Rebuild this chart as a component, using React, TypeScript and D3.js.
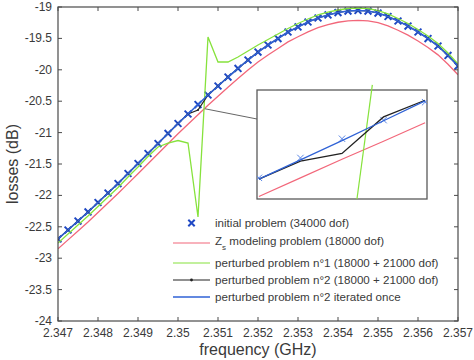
import React from 'react';
import * as d3 from 'd3';

// ---------- data (main plot) ----------
const freqs = [
  2.347, 2.34725, 2.3475, 2.34775, 2.348, 2.34825, 2.3485, 2.34875, 2.349, 2.34925,
  2.3495, 2.34975, 2.35, 2.35025, 2.3505, 2.35075, 2.351, 2.35125, 2.3515, 2.35175,
  2.352, 2.35225, 2.3525, 2.35275, 2.353, 2.35325, 2.3535, 2.35375, 2.354, 2.35425,
  2.3545, 2.35475, 2.355, 2.35525, 2.3555, 2.35575, 2.356, 2.35625, 2.3565, 2.35675,
  2.357,
];

const initialProblem = [
  -22.694, -22.551, -22.408, -22.264, -22.113, -21.962, -21.811, -21.651, -21.492, -21.333,
  -21.174, -21.014, -20.855, -20.704, -20.553, -20.401, -20.258, -20.115, -19.979, -19.844,
  -19.717, -19.605, -19.502, -19.398, -19.318, -19.239, -19.175, -19.127, -19.088, -19.064,
  -19.056, -19.064, -19.096, -19.151, -19.223, -19.303, -19.398, -19.502, -19.621, -19.772,
  -19.939,
];

const zsModeling = [
  -22.85, -22.708, -22.566, -22.423, -22.273, -22.122, -21.971, -21.812, -21.654, -21.495,
  -21.336, -21.177, -21.018, -20.866, -20.715, -20.563, -20.42, -20.277, -20.14, -20.005,
  -19.877, -19.764, -19.66, -19.556, -19.474, -19.396, -19.33, -19.28, -19.243, -19.22,
  -19.212, -19.22, -19.248, -19.3, -19.37, -19.448, -19.541, -19.644, -19.762, -19.912,
  -20.078,
];

const perturbed1 = [
  -22.758, -22.615, -22.471, -22.328, -22.177, -22.025, -21.874, -21.707, -21.548, -21.381,
  -21.229, -21.166, -21.126, -21.166, -22.344, -19.478, -19.876, -19.876, -19.796, -19.701,
  -19.605, -19.518, -19.43, -19.342, -19.263, -19.191, -19.127, -19.08, -19.048, -19.024,
  -19.016, -19.024, -19.056, -19.111, -19.183, -19.263, -19.358, -19.462, -19.581, -19.732,
  -19.908,
];

const perturbed2 = [
  -22.694, -22.551, -22.408, -22.264, -22.113, -21.962, -21.811, -21.651, -21.492, -21.333,
  -21.174, -21.014, -20.855, -20.704, -20.64, -20.401, -20.258, -20.115, -19.979, -19.844,
  -19.717, -19.605, -19.502, -19.398, -19.318, -19.239, -19.175, -19.127, -19.088, -19.064,
  -19.056, -19.064, -19.096, -19.151, -19.223, -19.303, -19.398, -19.502, -19.621, -19.772,
  -19.939,
];

const iteratedOnce = [
  -22.694, -22.551, -22.408, -22.264, -22.113, -21.962, -21.811, -21.651, -21.492, -21.333,
  -21.174, -21.014, -20.855, -20.704, -20.553, -20.401, -20.258, -20.115, -19.979, -19.844,
  -19.717, -19.605, -19.502, -19.398, -19.318, -19.239, -19.175, -19.127, -19.088, -19.064,
  -19.056, -19.064, -19.096, -19.151, -19.223, -19.303, -19.398, -19.502, -19.621, -19.772,
  -19.939,
];

const xTicks = [2.347, 2.348, 2.349, 2.35, 2.351, 2.352, 2.353, 2.354, 2.355, 2.356, 2.357];
const xTickLabels = ['2.347', '2.348', '2.349', '2.35', '2.351', '2.352', '2.353', '2.354', '2.355', '2.356', '2.357'];
const yTicks = [-19, -19.5, -20, -20.5, -21, -21.5, -22, -22.5, -23, -23.5, -24];
const yTickLabels = ['-19', '-19.5', '-20', '-20.5', '-21', '-21.5', '-22', '-22.5', '-23', '-23.5', '-24'];

// ---------- data (inset) ----------
const insetFreqs = [2.35035, 2.3504, 2.35045, 2.3505, 2.35055];
const insetInitial = [-20.667, -20.636, -20.606, -20.577, -20.549];
const insetZs = [-20.696, -20.667, -20.638, -20.61, -20.581];
const insetPert2 = [-20.669, -20.641, -20.629, -20.572, -20.546];
const insetIterated = [-20.669, -20.639, -20.609, -20.578, -20.547];
const insetPert1Freqs = [2.350468, 2.3504865];
const insetPert1 = [-20.7, -20.522];

// anchor of the zoom connector on the main curve
const anchorFreq = 2.35067;
const anchorValue = -20.62;

const legendLabels = [
  'initial problem (34000 dof)',
  'modeling problem (18000 dof)',
  'perturbed problem n°1 (18000 + 21000 dof)',
  'perturbed problem n°2 (18000 + 21000 dof)',
  'perturbed problem n°2 iterated once',
];

const W = 474;
const H = 360;
const M = { left: 58, right: 458, top: 7, bottom: 321 };
const INSET = { left: 257, right: 427, top: 90, bottom: 199 };

const C = {
  axis: '#4a4a4a',
  text: '#3a3a3a',
  red: '#f2677a',
  green: '#86e23c',
  black: '#222222',
  blue: '#2f62d6',
  marker: '#1f48c4',
  insetMarker: '#5a86e6',
};

const FONT = '"Liberation Sans", Arial, Helvetica, sans-serif';

export default function App() {
  const x = d3.scaleLinear().domain([2.347, 2.357]).range([M.left, M.right]);
  const y = d3.scaleLinear().domain([-24, -19]).range([M.bottom, M.top]);

  const line = d3
    .line<number>()
    .x((_, i) => x(freqs[i]))
    .y((d) => y(d));

  const ix = d3
    .scaleLinear()
    .domain([2.35035 - 0.0000006, 2.35055 + 0.0000006])
    .range([INSET.left + 1.4, INSET.right - 1.4]);
  const iy = d3.scaleLinear().domain([-20.7, -20.53]).range([INSET.bottom, INSET.top]);
  const iline = d3
    .line<number>()
    .x((_, i) => ix(insetFreqs[i]))
    .y((d) => iy(d));
  const gline = d3
    .line<number>()
    .x((_, i) => ix(insetPert1Freqs[i]))
    .y((d) => iy(d));

  const xMark = (cx: number, cy: number, s: number) =>
    `M${cx - s},${cy - s}L${cx + s},${cy + s}M${cx - s},${cy + s}L${cx + s},${cy - s}`;

  const legendRows = [223, 243, 263, 280, 297];
  const lx0 = 173;
  const lx1 = 210;
  const tx = 215;

  return (
    <svg
      width={W}
      height={H}
      viewBox={`0 0 ${W} ${H}`}
      style={{ position: 'absolute', left: 0, top: 0, background: '#fff', fontFamily: FONT }}
    >
      <defs>
        <clipPath id="plotClip">
          <rect x={M.left} y={M.top} width={M.right - M.left} height={M.bottom - M.top} />
        </clipPath>
        <clipPath id="insetClip">
          <rect x={INSET.left} y={INSET.top - 8} width={INSET.right - INSET.left} height={INSET.bottom - INSET.top + 8} />
        </clipPath>
      </defs>
      <rect x={0} y={0} width={W} height={H} fill="#fff" />

      {/* curves */}
      <g clipPath="url(#plotClip)">
        {initialProblem.map((v, i) => (
          <path key={'m' + i} d={xMark(x(freqs[i]), y(v), 3.4)} stroke={C.marker} strokeWidth={2} fill="none" />
        ))}
        <path d={line(zsModeling) || ''} fill="none" stroke={C.red} strokeWidth={1.3} />
        <path d={line(perturbed1) || ''} fill="none" stroke={C.green} strokeWidth={1.3} />
        <path d={line(perturbed2) || ''} fill="none" stroke={C.black} strokeWidth={1.2} />
        {perturbed2.map((v, i) => (
          <circle key={'b' + i} cx={x(freqs[i])} cy={y(v)} r={1} fill={C.black} />
        ))}
        <path d={line(iteratedOnce) || ''} fill="none" stroke={C.blue} strokeWidth={1.6} />
      </g>

      {/* axes box */}
      <rect
        x={M.left}
        y={M.top}
        width={M.right - M.left}
        height={M.bottom - M.top}
        fill="none"
        stroke={C.axis}
        strokeWidth={1.2}
      />
      {xTicks.map((t, i) => (
        <g key={'xt' + i}>
          <line x1={x(t)} x2={x(t)} y1={M.bottom} y2={M.bottom - 4} stroke={C.axis} strokeWidth={1} />
          <line x1={x(t)} x2={x(t)} y1={M.top} y2={M.top + 4} stroke={C.axis} strokeWidth={1} />
          <text x={x(t)} y={337} fontSize={12} fill={C.text} textAnchor="middle">
            {xTickLabels[i]}
          </text>
        </g>
      ))}
      {yTicks.map((t, i) => (
        <g key={'yt' + i}>
          <line x1={M.left} x2={M.left + 4} y1={y(t)} y2={y(t)} stroke={C.axis} strokeWidth={1} />
          <line x1={M.right} x2={M.right - 4} y1={y(t)} y2={y(t)} stroke={C.axis} strokeWidth={1} />
          <text x={52} y={y(t) + 4} fontSize={12} fill={C.text} textAnchor="end">
            {yTickLabels[i]}
          </text>
        </g>
      ))}
      <text x={(M.left + M.right) / 2} y={355} fontSize={16} fill={C.text} textAnchor="middle">
        frequency (GHz)
      </text>
      <text
        transform={`translate(18,${(M.top + M.bottom) / 2}) rotate(-90)`}
        fontSize={16}
        fill={C.text}
        textAnchor="middle"
      >
        losses (dB)
      </text>

      {/* connector to inset */}
      <line
        x1={x(anchorFreq)}
        y1={y(anchorValue)}
        x2={INSET.left}
        y2={119}
        stroke="#666"
        strokeWidth={1}
      />

      {/* inset */}
      <rect
        x={INSET.left}
        y={INSET.top}
        width={INSET.right - INSET.left}
        height={INSET.bottom - INSET.top}
        fill="#fff"
        stroke="#5a5a5a"
        strokeWidth={1.3}
      />
      <g clipPath="url(#insetClip)">
        {insetInitial.map((v, i) => (
          <path key={'im' + i} d={xMark(ix(insetFreqs[i]), iy(v), 3.2)} stroke={C.insetMarker} strokeWidth={1} fill="none" />
        ))}
        <path d={iline(insetZs) || ''} fill="none" stroke={C.red} strokeWidth={1.2} />
        <path d={gline(insetPert1) || ''} fill="none" stroke={C.green} strokeWidth={1.2} />
        <path d={iline(insetPert2) || ''} fill="none" stroke={C.black} strokeWidth={1.3} />
        <path d={iline(insetIterated) || ''} fill="none" stroke={C.blue} strokeWidth={1.2} />
      </g>

      {/* legend */}
      <g fontSize={11.6} fill={C.text}>
        <path d={xMark((lx0 + lx1) / 2, legendRows[0], 3.2)} stroke={C.marker} strokeWidth={2} fill="none" />
        <text x={tx} y={legendRows[0] + 4}>{legendLabels[0]}</text>

        <line x1={lx0} x2={lx1} y1={legendRows[1]} y2={legendRows[1]} stroke={C.red} strokeWidth={1.2} />
        <text x={tx} y={legendRows[1] + 2}>
          Z
          <tspan fontSize={8} dy={5}>s</tspan>
          <tspan dy={-5}> {legendLabels[1]}</tspan>
        </text>

        <line x1={lx0} x2={lx1} y1={legendRows[2]} y2={legendRows[2]} stroke={C.green} strokeWidth={1.2} />
        <text x={tx} y={legendRows[2] + 4}>{legendLabels[2]}</text>

        <line x1={lx0} x2={lx1} y1={legendRows[3]} y2={legendRows[3]} stroke={C.black} strokeWidth={1.2} />
        <circle cx={(lx0 + lx1) / 2} cy={legendRows[3]} r={1.4} fill={C.black} />
        <text x={tx} y={legendRows[3] + 4}>{legendLabels[3]}</text>

        <line x1={lx0} x2={lx1} y1={legendRows[4]} y2={legendRows[4]} stroke={C.blue} strokeWidth={1.4} />
        <text x={tx} y={legendRows[4] + 4}>{legendLabels[4]}</text>
      </g>
    </svg>
  );
}
